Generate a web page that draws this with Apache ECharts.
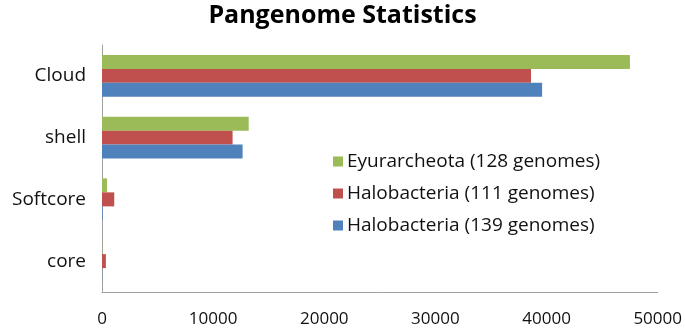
<!DOCTYPE html>
<html>
<head>
    <meta charset="utf-8">
    <title>Pangenome Statistics</title>
    <script src="https://cdn.jsdelivr.net/npm/echarts/dist/echarts.min.js"></script>
</head>
<body style="margin:0">
    <div id="main" style="width: 685px;height:330px;"></div>
    <script>
        // categories bottom to top
        var categories = ['core', 'Softcore', 'shell', 'Cloud'];
        var eyur128 = [20, 450, 13200, 47500];
        var halo111 = [350, 1100, 11750, 38600];
        var halo139 = [20, 60, 12650, 39600];
        var xTicks = [0, 10000, 20000, 30000, 40000, 50000];

        var chartDom = document.getElementById('main');
        var myChart = echarts.init(chartDom);
        var font = 'Open Sans';

        var option = {
            title: {
                text: 'Pangenome Statistics',
                left: 'center',
                top: -2,
                textStyle: { fontFamily: font, fontSize: 25, fontWeight: 'bold', color: '#000' }
            },
            legend: {
                orient: 'vertical',
                left: 328,
                top: 147,
                itemWidth: 10,
                itemHeight: 10,
                itemGap: 13,
                icon: 'rect',
                data: ['Eyurarcheota (128 genomes)', 'Halobacteria (111 genomes)', 'Halobacteria (139 genomes)'],
                textStyle: { fontFamily: font, fontSize: 19, color: '#111', padding: [0, 0, 0, -1] }
            },
            grid: { left: 102, right: 27, top: 45, bottom: 38 },
            xAxis: {
                type: 'value',
                min: xTicks[0],
                max: xTicks[xTicks.length - 1],
                interval: xTicks[1] - xTicks[0],
                axisLine: { show: true, lineStyle: { color: '#a0a0a0' } },
                axisTick: { show: false },
                splitLine: { show: false },
                axisLabel: {
                    margin: 19, fontFamily: font, fontSize: 17, color: '#111',
                    formatter: function (v) { return String(v); }
                }
            },
            yAxis: {
                type: 'category',
                data: categories,
                axisLine: { lineStyle: { color: '#a0a0a0' } },
                axisTick: { show: false },
                axisLabel: { margin: 16, fontFamily: font, fontSize: 19, color: '#111' }
            },
            series: [
                { name: 'Eyurarcheota (128 genomes)', type: 'bar', data: eyur128, itemStyle: { color: '#9BBB59' }, barGap: '0%', barCategoryGap: '32%' },
                { name: 'Halobacteria (111 genomes)', type: 'bar', data: halo111, itemStyle: { color: '#C0504D' } },
                { name: 'Halobacteria (139 genomes)', type: 'bar', data: halo139, itemStyle: { color: '#4F81BD' } }
            ]
        };

        option && myChart.setOption(option);
    </script>
</body>
</html>
